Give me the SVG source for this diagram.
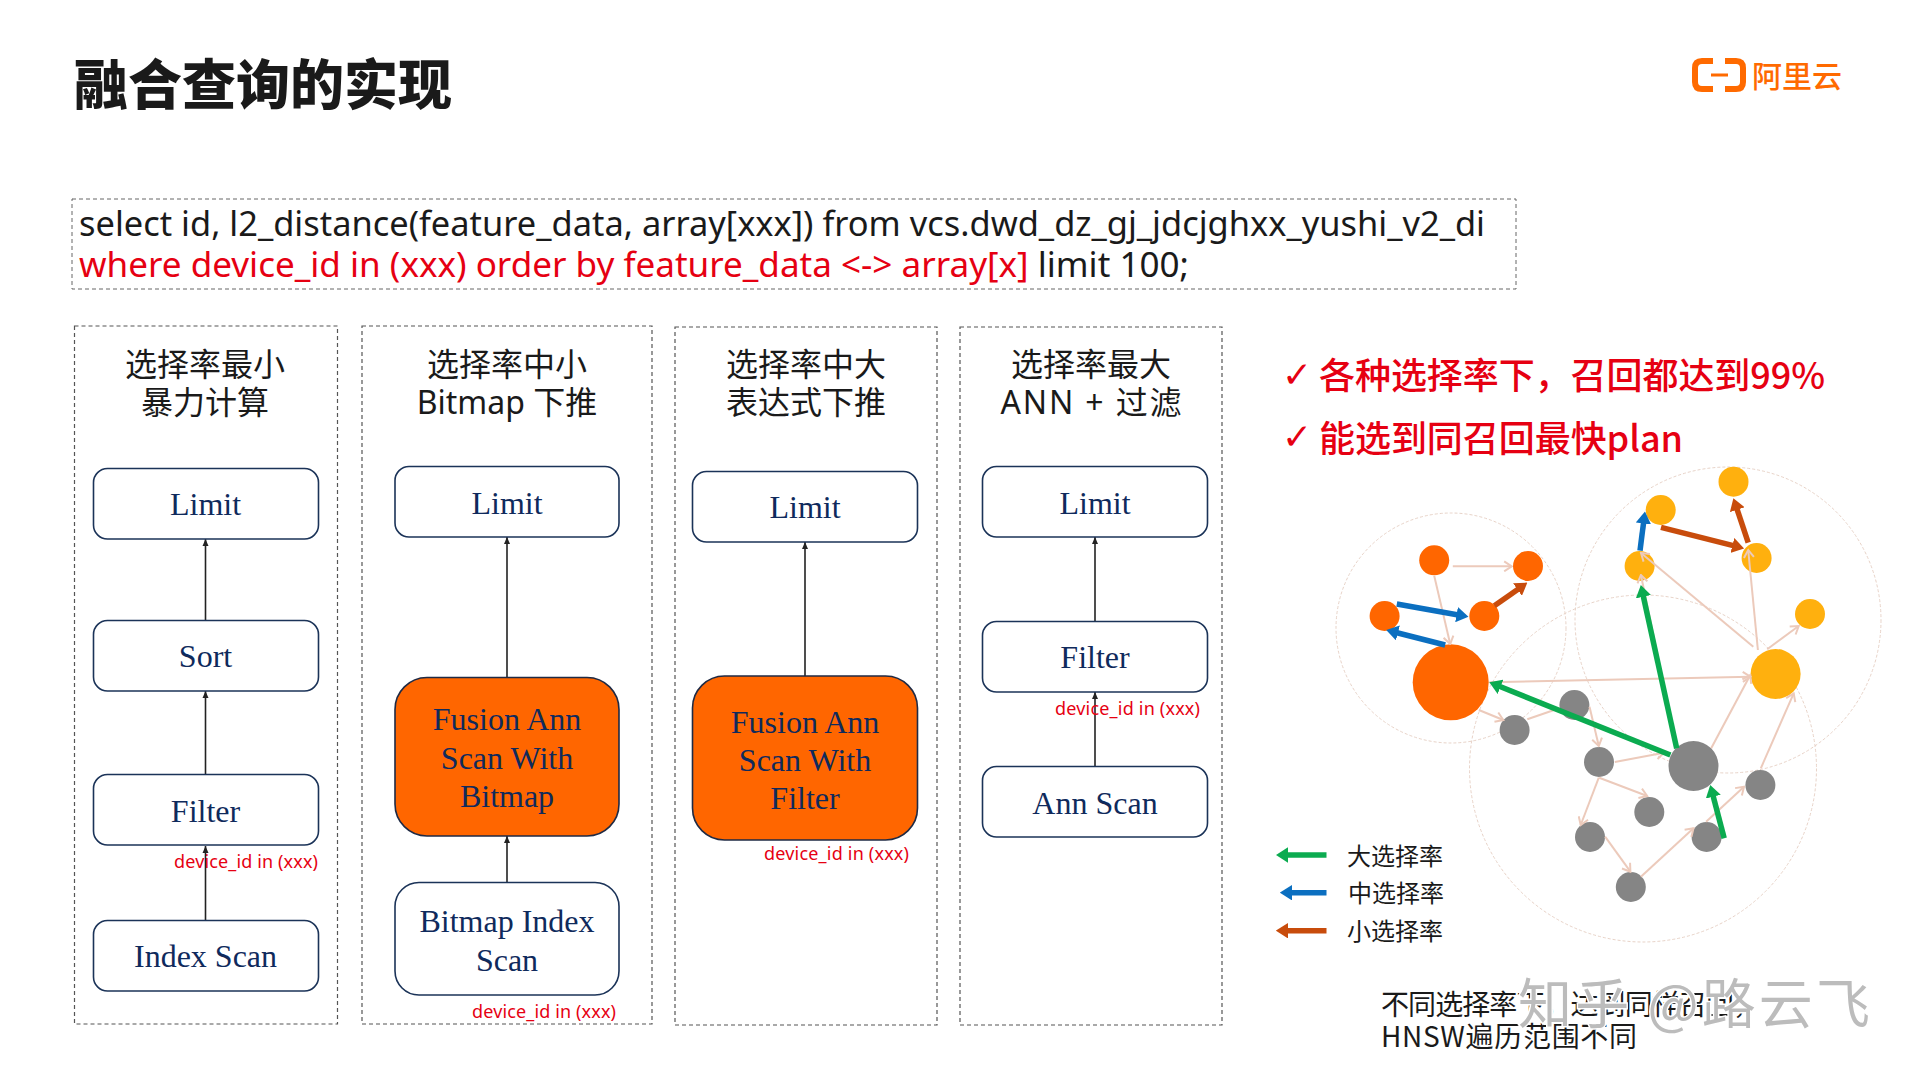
<svg xmlns="http://www.w3.org/2000/svg" width="1920" height="1080" viewBox="0 0 1920 1080">
<style>
text{font-family:"Noto Sans","Noto Sans CJK SC",sans-serif}
.cjk{font-family:"Noto Sans CJK SC",sans-serif}
.panel{fill:none;stroke:#555;stroke-width:1.2;stroke-dasharray:4 3}
.box{fill:#fff;stroke:#1b3358;stroke-width:1.6}
.hot{fill:#ff6600;stroke:#1f2a44;stroke-width:1.6}
.lbl{font-family:"Liberation Serif",serif;font-size:32px;fill:#0f2a5c;text-anchor:middle}
.hd{font-size:32px;fill:#1a1a1a;text-anchor:middle}
.cond{font-size:18px;fill:#e60012}
.sql{font-size:35px;fill:#1a1a1a}
.red{fill:#e60012}
.flow{stroke:#222;stroke-width:1.6;fill:none;marker-end:url(#mFlow)}
.thin{stroke:#eccabb;stroke-width:2;fill:none;marker-end:url(#mThin)}
.hull{fill:none;stroke:#e8d3c8;stroke-width:1;stroke-dasharray:3 2}
.g{stroke:#0bab50;stroke-width:5.5;fill:none;marker-end:url(#mG)}
.b{stroke:#0b6fc0;stroke-width:5.5;fill:none;marker-end:url(#mB)}
.o{stroke:#c84c0c;stroke-width:5.5;fill:none;marker-end:url(#mO)}
.po{fill:#ff6600}.py{fill:#ffb00e}.pg{fill:#858585}
.leg{font-size:24px;fill:#1a1a1a}
.big{font-size:36px;fill:#e60012;font-weight:500}
.chk{font-family:"DejaVu Sans",sans-serif;font-size:36px;font-weight:700;fill:#e60012}
.note{font-size:28px;fill:#1a1a1a}
</style>
<defs>
<marker id="mFlow" markerUnits="userSpaceOnUse" markerWidth="8" markerHeight="8" refX="7" refY="4" orient="auto"><path d="M0 1L7 4L0 7z" fill="#222"/></marker>
<marker id="mThin" markerUnits="userSpaceOnUse" markerWidth="10" markerHeight="12" refX="8.500" refY="6" orient="auto"><path d="M1 1L8.500 6L1 11" fill="none" stroke="#eccabb" stroke-width="2"/></marker>
<marker id="mG" markerWidth="2.2" markerHeight="2.8" refX=".36" refY="1.4" orient="auto"><path d="M0 0L2.2 1.4L0 2.8z" fill="#0bab50"/></marker>
<marker id="mB" markerWidth="2.2" markerHeight="2.8" refX=".36" refY="1.4" orient="auto"><path d="M0 0L2.2 1.4L0 2.8z" fill="#0b6fc0"/></marker>
<marker id="mO" markerWidth="2.2" markerHeight="2.8" refX=".36" refY="1.4" orient="auto"><path d="M0 0L2.2 1.4L0 2.8z" fill="#c84c0c"/></marker>
</defs>
<rect width="1920" height="1080" fill="#fff"/>
<text id="title" class="cjk" x="74" y="105" font-size="54" font-weight="900" fill="#1a1a1a">融合查询的实现</text>
<g id="logo">
<path d="M1713 61H1702Q1695 61 1695 68V82Q1695 89 1702 89H1713" fill="none" stroke="#ff6a00" stroke-width="6"/>
<path d="M1725 61H1736Q1743 61 1743 68V82Q1743 89 1736 89H1725" fill="none" stroke="#ff6a00" stroke-width="6"/>
<rect x="1711" y="73.500" width="17" height="3" fill="#ff6a00"/>
<text class="cjk" x="1752" y="87" font-size="30" font-weight="500" fill="#ff6a00">阿里云</text>
</g>
<g id="sql">
<rect x="72" y="199" width="1444" height="90" fill="none" stroke="#666" stroke-width="1" stroke-dasharray="4 3"/>
<text class="sql" x="79" y="236" textLength="1406" lengthAdjust="spacingAndGlyphs">select id, l2_distance(feature_data, array[xxx]) from vcs.dwd_dz_gj_jdcjghxx_yushi_v2_di</text>
<text class="sql" x="79" y="277" textLength="1110" lengthAdjust="spacingAndGlyphs"><tspan class="red">where device_id in (xxx) order by feature_data &lt;-&gt; array[x]</tspan> limit 100;</text>
</g>
<g id="panels">
<rect class="panel" x="74.500" y="326" width="263" height="698"/>
<rect class="panel" x="362" y="326" width="290" height="698"/>
<rect class="panel" x="675" y="327" width="262" height="698"/>
<rect class="panel" x="960" y="327" width="262" height="698"/>
<text class="hd" x="205" y="376">选择率最小</text><text class="hd" x="205" y="414">暴力计算</text>
<text class="hd" x="507" y="376">选择率中小</text><text class="hd" x="507" y="414">Bitmap 下推</text>
<text class="hd" x="806" y="376">选择率中大</text><text class="hd" x="806" y="414">表达式下推</text>
<text class="hd" x="1091" y="376">选择率最大</text><text class="hd" x="1091" y="414" textLength="181">ANN + 过滤</text>
</g>
<g id="connectors">
<line class="flow" x1="205.500" y1="620" x2="205.500" y2="539"/>
<line class="flow" x1="205.500" y1="774" x2="205.500" y2="691"/>
<line class="flow" x1="205.500" y1="920" x2="205.500" y2="846"/>
<line class="flow" x1="507" y1="677" x2="507" y2="537"/>
<line class="flow" x1="507" y1="882" x2="507" y2="836"/>
<line class="flow" x1="805" y1="676" x2="805" y2="542"/>
<line class="flow" x1="1095" y1="621" x2="1095" y2="537"/>
<line class="flow" x1="1095" y1="766" x2="1095" y2="692"/>
</g>
<g id="n-limit1"><rect class="box" x="93.500" y="468.500" width="225" height="70.500" rx="14"/><text class="lbl" x="205.500" y="515">Limit</text></g>
<g id="n-sort"><rect class="box" x="93.500" y="620.500" width="225" height="70.500" rx="14"/><text class="lbl" x="205.500" y="667">Sort</text></g>
<g id="n-filter1"><rect class="box" x="93.500" y="774.500" width="225" height="70.500" rx="14"/><text class="lbl" x="205.500" y="822">Filter</text></g>
<g id="n-indexscan"><rect class="box" x="93.500" y="920.500" width="225" height="70.500" rx="14"/><text class="lbl" x="205.500" y="967">Index Scan</text></g>
<g id="n-limit2"><rect class="box" x="395" y="466.500" width="224" height="70.500" rx="14"/><text class="lbl" x="507" y="514">Limit</text></g>
<g id="n-fusion-bitmap"><rect class="hot" x="395" y="677.500" width="224" height="158.500" rx="32"/><text class="lbl" x="507" y="730">Fusion Ann</text><text class="lbl" x="507" y="769">Scan With</text><text class="lbl" x="507" y="807">Bitmap</text></g>
<g id="n-bitmapscan"><rect class="box" x="395" y="882.500" width="224" height="112.500" rx="24"/><text class="lbl" x="507" y="932">Bitmap Index</text><text class="lbl" x="507" y="971">Scan</text></g>
<g id="n-limit3"><rect class="box" x="692.500" y="471.500" width="225" height="70.500" rx="14"/><text class="lbl" x="805" y="518">Limit</text></g>
<g id="n-fusion-filter"><rect class="hot" x="692.500" y="676" width="225" height="164" rx="32"/><text class="lbl" x="805" y="733">Fusion Ann</text><text class="lbl" x="805" y="771">Scan With</text><text class="lbl" x="805" y="809">Filter</text></g>
<g id="n-limit4"><rect class="box" x="982.500" y="466.500" width="225" height="70.500" rx="14"/><text class="lbl" x="1095" y="514">Limit</text></g>
<g id="n-filter4"><rect class="box" x="982.500" y="621.500" width="225" height="70.500" rx="14"/><text class="lbl" x="1095" y="668">Filter</text></g>
<g id="n-annscan"><rect class="box" x="982.500" y="766.500" width="225" height="70.500" rx="14"/><text class="lbl" x="1095" y="814">Ann Scan</text></g>
<g id="conditions">
<text class="cond" x="174" y="868" textLength="144">device_id in (xxx)</text>
<text class="cond" x="472" y="1018" textLength="144">device_id in (xxx)</text>
<text class="cond" x="764" y="860" textLength="145">device_id in (xxx)</text>
<text class="cond" x="1055" y="715" textLength="145">device_id in (xxx)</text>
</g>
<g id="claims">
<text class="chk" x="1282" y="387">✓</text>
<text class="big cjk" x="1319" y="389" textLength="506">各种选择率下，召回都达到99%</text>
<text class="chk" x="1282" y="449">✓</text>
<text class="big cjk" x="1319" y="452" textLength="364">能选到同召回最快plan</text>
</g>
<g id="hulls">
<circle class="hull" cx="1451" cy="628" r="115"/>
<circle class="hull" cx="1728" cy="620" r="153"/>
<circle class="hull" cx="1643" cy="768.500" r="173.500"/>
</g>
<g id="points">
<circle class="po" cx="1434.200" cy="560.300" r="15"/><circle class="po" cx="1528" cy="566" r="15"/><circle class="po" cx="1384.600" cy="616" r="15"/><circle class="po" cx="1484.300" cy="616" r="15"/><circle class="po" cx="1450.700" cy="682.300" r="38"/>
<circle class="py" cx="1733.500" cy="481.700" r="15"/><circle class="py" cx="1660.700" cy="510" r="15"/><circle class="py" cx="1639.600" cy="566" r="15"/><circle class="py" cx="1756.600" cy="558" r="15"/><circle class="py" cx="1810" cy="614" r="15"/><circle class="py" cx="1775.600" cy="674" r="25"/>
<circle class="pg" cx="1574.400" cy="705" r="15"/><circle class="pg" cx="1514.600" cy="730" r="15"/><circle class="pg" cx="1599" cy="762" r="15"/><circle class="pg" cx="1693.500" cy="766" r="25"/><circle class="pg" cx="1760.400" cy="785" r="15"/><circle class="pg" cx="1649.300" cy="812" r="15"/><circle class="pg" cx="1590" cy="837" r="15"/><circle class="pg" cx="1706.600" cy="837" r="15"/><circle class="pg" cx="1630.800" cy="887" r="15"/>
</g>
<g id="graph-edges">
<line class="thin" x1="1452.800" y1="566.300" x2="1511.700" y2="566.300"/>
<line class="thin" x1="1434.200" y1="575.700" x2="1450.200" y2="644"/>
<line class="thin" x1="1478.900" y1="710" x2="1503.300" y2="720"/>
<line x1="1527.300" y1="719.300" x2="1560" y2="708" stroke="#eccabb" stroke-width="2"/>
<line class="thin" x1="1589.500" y1="706.700" x2="1598.800" y2="746"/>
<line class="thin" x1="1614.800" y1="762" x2="1664" y2="752.700"/>
<line class="thin" x1="1599.200" y1="777.700" x2="1647.200" y2="796"/>
<line class="thin" x1="1598.800" y1="777.700" x2="1580.700" y2="825"/>
<line class="thin" x1="1605.100" y1="836.700" x2="1630.400" y2="871.700"/>
<line class="thin" x1="1640.900" y1="876.700" x2="1693.500" y2="828.300"/>
<line class="thin" x1="1706.100" y1="821.700" x2="1744" y2="786.700"/>
<line class="thin" x1="1760.800" y1="768.300" x2="1793.700" y2="693.300"/>
<line class="thin" x1="1711.200" y1="748.300" x2="1750.300" y2="675"/>
<line class="thin" x1="1489.400" y1="682.300" x2="1750.300" y2="676.700"/>
<line class="thin" x1="1767.200" y1="649.300" x2="1798.700" y2="626"/>
<line class="thin" x1="1757.900" y1="650" x2="1748.200" y2="550"/>
<line class="thin" x1="1753.300" y1="646.700" x2="1641" y2="553"/>
<line class="thin" x1="1676.700" y1="748.300" x2="1640.900" y2="575"/>
</g>
<g id="search-paths">
<line class="g" x1="1676.700" y1="748.300" x2="1643" y2="594.800"/>
<line class="g" x1="1670.400" y1="755" x2="1498.700" y2="686"/>
<line class="g" x1="1724.200" y1="838.300" x2="1712.800" y2="794.700"/>
<line class="b" x1="1640" y1="550.700" x2="1643.700" y2="521.600"/>
<line class="b" x1="1396.800" y1="604" x2="1458.500" y2="615"/>
<line class="b" x1="1445.200" y1="645" x2="1396" y2="632.500"/>
<line class="o" x1="1661" y1="527.300" x2="1734.300" y2="545.900"/>
<line class="o" x1="1748.200" y1="542.700" x2="1736.600" y2="507.800"/>
<line class="o" x1="1494.400" y1="605.700" x2="1519.100" y2="588.400"/>
</g>
<g id="legend">
<line class="g" x1="1326.500" y1="855" x2="1286" y2="855"/><text class="leg cjk" x="1347" y="865">大选择率</text>
<line class="b" x1="1326.500" y1="892.700" x2="1290" y2="892.700"/><text class="leg cjk" x="1348" y="902">中选择率</text>
<line class="o" x1="1326.500" y1="930.700" x2="1286" y2="930.700"/><text class="leg cjk" x="1347" y="940">小选择率</text>
</g>
<g id="note">
<text class="note cjk" x="1381" y="1015" textLength="380">不同选择率下，达到同样召回，</text>
<text class="note cjk" x="1381" y="1047" textLength="256">HNSW遍历范围不同</text>
</g>
<text id="watermark" class="cjk" x="1518" y="1024" font-size="54" fill="#bcbcbc" stroke="#fff" stroke-width="3" style="paint-order:stroke" textLength="352">知乎 @路云飞</text>
</svg>
